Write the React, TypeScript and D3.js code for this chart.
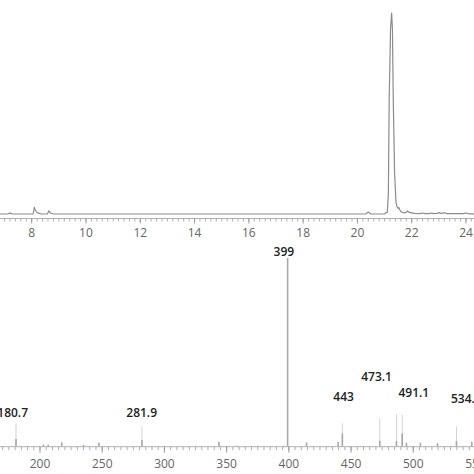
import React from "react";
import * as d3 from "d3";

// Chromatogram (retention time, min) vs relative intensity
const chromTime = [6.83, 7.1, 7.2, 7.3, 8.05, 8.1, 8.13, 8.18, 8.25, 8.35, 8.58, 8.63, 8.7, 8.8, 20.3, 20.4, 20.5, 21.0, 21.05, 21.1, 21.14, 21.17, 21.22, 21.26, 21.29, 21.32, 21.37, 21.42, 21.46, 21.5, 21.53, 21.57, 21.62, 21.7, 21.8, 21.85, 21.9, 22.0, 22.1, 22.3, 22.4, 22.5, 22.65, 22.72, 22.8, 22.95, 23.0, 23.1, 23.2, 23.3, 23.9, 24.0, 24.1, 24.3];
const chromInt = [0, 0, 0.4, 0, 0, 3.3, 2.0, 1.0, 0.4, 0, 0, 1.5, 0.4, 0, 0, 1.0, 0, 0, 0.7, 0.8, 10, 57, 92, 100, 92, 57, 20, 6, 3.5, 2.8, 3.2, 1.8, 1.0, 0.6, 0.8, 1.5, 0.8, 0.6, 0.3, 0.2, 0.5, 0.2, 0.2, 0.5, 0.2, 0.3, 0.7, 0.3, 0.6, 0.2, 0.2, 0.5, 0.1, 0.1];
const chromMajorTicks = [8, 10, 12, 14, 16, 18, 20, 22, 24];

// Mass spectrum (m/z) vs relative abundance
const peakMz = [180.7, 202.7, 206.5, 217.5, 235, 247.4, 281.9, 343.8, 358.3, 375.4, 396, 399, 414.2, 439.6, 443, 473.1, 486.5, 491.1, 494.5, 505.7, 519.5, 534.7, 547];
const peakInt = [4.1, 1.2, 1.0, 2.3, 0.9, 2.1, 3.5, 2.6, 0.5, 0.5, 0.5, 100, 2.3, 2.5, 7.0, 3.2, 3.0, 7.0, 2.1, 2.1, 1.8, 3.0, 2.6];
const specMajorTicks = [200, 250, 300, 350, 400, 450, 500, 550];

// Annotated peaks
const labelText = ["180.7", "281.9", "399", "443", "473.1", "491.1", "534.7"];
const labelMz = [180.7, 281.9, 399, 443, 473.1, 491.1, 534.7];
const labelAtMz = [178.0, 281.7, 396.0, 444.0, 470.5, 500.4, 542.6];
const labelLevel = [15.6, 15.9, 101.3, 24.4, 34.7, 26.2, 23.0];
const leaderMz = [180.7, 281.9, 443, 473.1, 486.5, 491.1, 534.7];
const leaderTop = [12.4, 10.6, 12.4, 15.0, 17.3, 16.8, 10.6];

const W = 474;
const H = 474;

export default function App() {
  // top panel
  const xT = d3.scaleLinear().domain([6.832, 24.295]).range([0, W]);
  const yT = d3.scaleLinear().domain([0, 100]).range([214, 13]);
  const axisTY = 218.5;
  const chromPts: [number, number][] = chromTime.map((t, i) => [t, chromInt[i]]);
  const line = d3
    .line<[number, number]>()
    .x((d) => xT(d[0]))
    .y((d) => yT(d[1]));
  const minorT = d3.range(7.0, 24.3, 0.2);

  // bottom panel
  const xB = d3.scaleLinear().domain([167.85, 548.8]).range([0, W]);
  const yB = d3.scaleLinear().domain([0, 100]).range([446.7, 258]);
  const axisBY = 446.7;
  const minorB = d3.range(170, 550, 5);

  const tickFont = "'Open Sans', 'DejaVu Sans', sans-serif";

  return (
    <svg
      width={W}
      height={H}
      style={{ position: "absolute", left: 0, top: 0, background: "#fff" }}
    >
      <rect x={0} y={0} width={W} height={H} fill="#fff" />
      {/* ---------- Chromatogram ---------- */}
      <line x1={0} x2={W} y1={axisTY} y2={axisTY} stroke="#b0b0b0" strokeWidth={1} />
      {minorT.map((t, i) => (
        <line key={"mt" + i} x1={xT(t)} x2={xT(t)} y1={axisTY} y2={axisTY + 3} stroke="#b0b0b0" strokeWidth={1} />
      ))}
      {chromMajorTicks.map((t) => (
        <g key={"Mt" + t}>
          <line x1={xT(t)} x2={xT(t)} y1={axisTY} y2={axisTY + 5} stroke="#999" strokeWidth={1} />
          <text x={xT(t)} y={236.5} textAnchor="middle" fontSize={12} fill="#666" fontFamily={tickFont}>
            {t}
          </text>
        </g>
      ))}
      <path d={line(chromPts) || ""} fill="none" stroke="#8c8c8c" strokeWidth={1.2} strokeLinejoin="round" />

      {/* ---------- Mass spectrum ---------- */}
      {leaderMz.map((m, i) => (
        <line key={"ld" + i} x1={xB(m)} x2={xB(m)} y1={yB(0)} y2={yB(leaderTop[i])} stroke="#d4d4d4" strokeWidth={1} />
      ))}
      {peakMz.map((m, i) => (
        <line key={"pk" + i} x1={xB(m)} x2={xB(m)} y1={yB(0)} y2={yB(peakInt[i])} stroke="#a8a8a8" strokeWidth={1.6} />
      ))}
      <line x1={0} x2={W} y1={axisBY} y2={axisBY} stroke="#b0b0b0" strokeWidth={1} />
      {minorB.map((m, i) => (
        <line key={"mb" + i} x1={xB(m)} x2={xB(m)} y1={axisBY} y2={axisBY + 3.5} stroke="#b0b0b0" strokeWidth={1} />
      ))}
      {specMajorTicks.map((m) => (
        <g key={"Mb" + m}>
          <line x1={xB(m)} x2={xB(m)} y1={axisBY} y2={axisBY + 6} stroke="#999" strokeWidth={1} />
          <text x={xB(m)} y={467.5} textAnchor="middle" fontSize={12} fill="#666" fontFamily={tickFont}>
            {m}
          </text>
        </g>
      ))}
      {labelText.map((s, i) => (
        <text
          key={"lb" + i}
          x={xB(labelAtMz[i])}
          y={yB(labelLevel[i])}
          textAnchor="middle"
          fontSize={12}
          fontWeight={600}
          fill="#222"
          fontFamily={tickFont}
          data-mz={labelMz[i]}
        >
          {s}
        </text>
      ))}
    </svg>
  );
}
